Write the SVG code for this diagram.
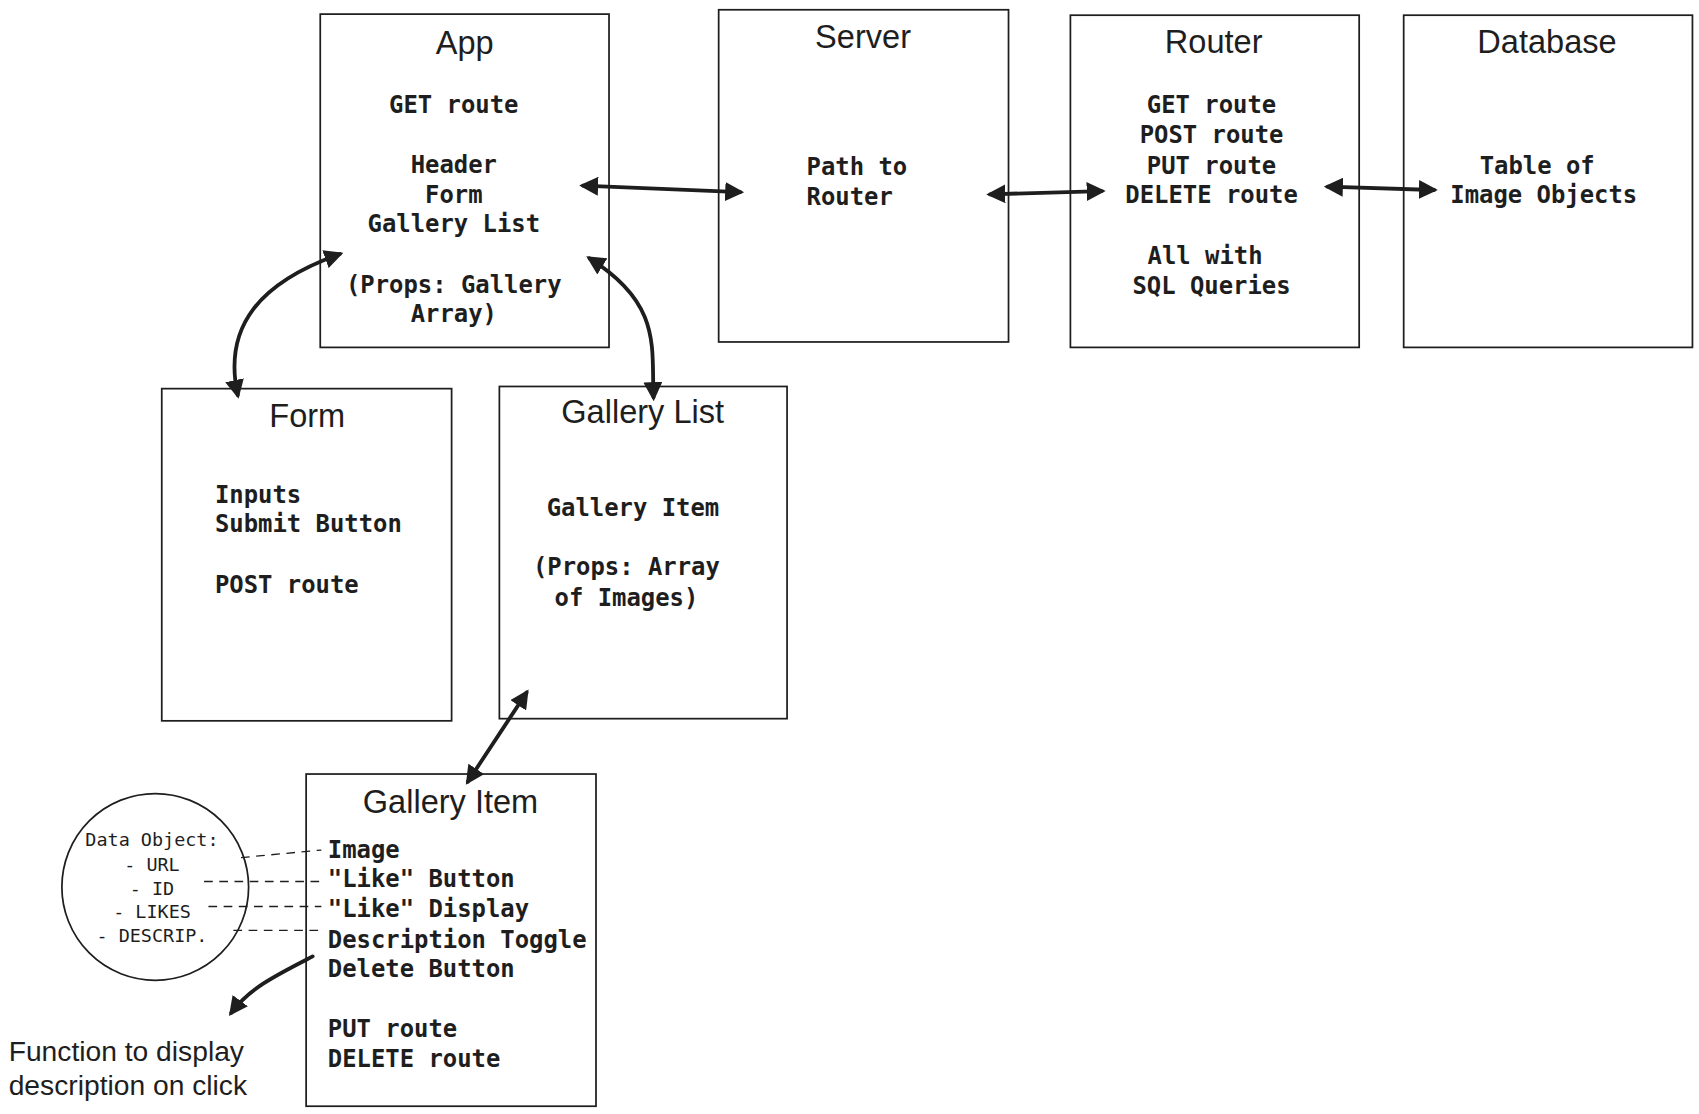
<svg xmlns="http://www.w3.org/2000/svg" width="1699" height="1114" viewBox="0 0 1699 1114">
<style>
.box{fill:none;stroke:#1e1e1e;stroke-width:1.6}
.t{font-family:"Liberation Sans",sans-serif;font-size:30px;fill:#1e1e1e}
.m{font-family:"DejaVu Sans Mono",monospace;font-size:22px;fill:#1e1e1e;font-weight:600}
.s{font-family:"DejaVu Sans Mono",monospace;font-size:17px;fill:#1e1e1e}
.h{font-family:"Liberation Sans",sans-serif;font-size:26px;fill:#1e1e1e}
.c{text-anchor:middle}
.a{fill:none;stroke:#1e1e1e;stroke-width:3.5;stroke-linecap:round}
.d{fill:none;stroke:#1e1e1e;stroke-width:1.2;stroke-dasharray:8 6}
</style>
<defs>
<marker id="ah" viewBox="0 0 10 10" refX="8" refY="5" markerWidth="5" markerHeight="5" orient="auto-start-reverse"><path d="M0,0 L10,5 L0,10 z" fill="#1e1e1e"/></marker>
</defs>
<rect width="1699" height="1114" fill="#fff"/>
<g transform="scale(1.0856)">
<g id="app"><rect class="box" x="295" y="13" width="266" height="307"/>
<text class="t c" x="428" y="50">App</text>
<text class="m c" x="418" y="104">GET route</text>
<text class="m c" x="418" y="159">Header</text><text class="m c" x="418" y="187">Form</text><text class="m c" x="418" y="214">Gallery List</text>
<text class="m c" x="418" y="270">(Props: Gallery</text><text class="m c" x="418" y="297">Array)</text></g>
<g id="server"><rect class="box" x="662" y="9" width="267" height="306"/>
<text class="t c" x="795" y="44">Server</text>
<text class="m" x="743" y="161">Path to</text><text class="m" x="743" y="189">Router</text></g>
<g id="router"><rect class="box" x="986" y="14" width="266" height="306"/>
<text class="t c" x="1118" y="49">Router</text>
<text class="m c" x="1116" y="104">GET route</text><text class="m c" x="1116" y="132">POST route</text><text class="m c" x="1116" y="160">PUT route</text><text class="m c" x="1116" y="187">DELETE route</text>
<text class="m c" x="1110" y="243">All with</text><text class="m c" x="1116" y="271">SQL Queries</text></g>
<g id="database"><rect class="box" x="1293" y="14" width="266" height="306"/>
<text class="t c" x="1425" y="49">Database</text>
<text class="m c" x="1416" y="160">Table of</text><text class="m c" x="1422" y="187">Image Objects</text></g>
<g id="form"><rect class="box" x="149" y="358" width="267" height="306"/>
<text class="t c" x="283" y="393">Form</text>
<text class="m" x="198" y="463">Inputs</text><text class="m" x="198" y="490">Submit Button</text><text class="m" x="198" y="546">POST route</text></g>
<g id="gallerylist"><rect class="box" x="460" y="356" width="265" height="306"/>
<text class="t c" x="592" y="390">Gallery List</text>
<text class="m c" x="583" y="475">Gallery Item</text>
<text class="m c" x="577" y="530">(Props: Array</text><text class="m c" x="577" y="558">of Images)</text></g>
<g id="galleryitem"><rect class="box" x="282" y="713" width="267" height="306"/>
<text class="t c" x="415" y="749">Gallery Item</text>
<text class="m" x="302" y="790">Image</text><text class="m" x="302" y="817">"Like" Button</text><text class="m" x="302" y="845">"Like" Display</text><text class="m" x="302" y="873">Description Toggle</text><text class="m" x="302" y="900">Delete Button</text>
<text class="m" x="302" y="955">PUT route</text><text class="m" x="302" y="983">DELETE route</text></g>
<g id="dataobject"><ellipse class="box" cx="143" cy="817" rx="86" ry="86"/>
<text class="s c" x="140" y="779">Data Object:</text><text class="s c" x="140" y="802">- URL</text><text class="s c" x="140" y="824">- ID</text><text class="s c" x="140" y="846">- LIKES</text><text class="s c" x="140" y="868">- DESCRIP.</text></g>
<g id="note"><text class="h" x="8" y="977">Function to display</text><text class="h" x="8" y="1009">description on click</text></g>
<g id="connectors">
<path class="a" marker-start="url(#ah)" marker-end="url(#ah)" d="M537,171 L682,177"/>
<path class="a" marker-start="url(#ah)" marker-end="url(#ah)" d="M912,179 L1015,176"/>
<path class="a" marker-start="url(#ah)" marker-end="url(#ah)" d="M1223,172 L1321,175"/>
<path class="a" marker-start="url(#ah)" marker-end="url(#ah)" d="M313,234 C240,260 205,300 219,364"/>
<path class="a" marker-start="url(#ah)" marker-end="url(#ah)" d="M543,238 C610,280 600,320 602,366"/>
<path class="a" marker-start="url(#ah)" marker-end="url(#ah)" d="M485,638 L431,720"/>
<path class="a" marker-end="url(#ah)" d="M288,881 C255,898 230,910 213,933"/>
<path class="d" d="M222,790 L296,783"/><path class="d" d="M188,812 L296,812"/><path class="d" d="M192,835 L296,835"/><path class="d" d="M215,857 L296,857"/>
</g>
</g>
</svg>
